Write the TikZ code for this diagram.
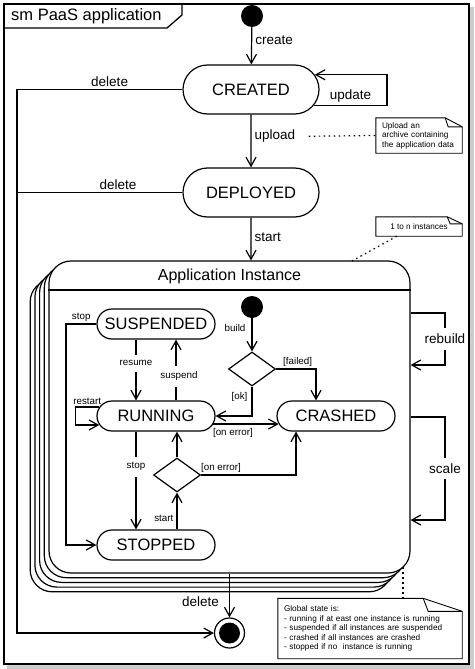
\documentclass[tikz,border=0pt]{standalone}
\usepackage{fontspec}
\setmainfont{Liberation Sans}
\usetikzlibrary{arrows.meta,shapes.misc,shapes.geometric}
\newcommand\mynote[4]{%
  \draw[notel] (#1.north west) -- ([xshift=-#2]#1.north east) -- ([yshift=-#3]#1.north east) -- (#1.south east) -- (#1.south west) -- cycle;
  \draw[notel] ([xshift=-#2]#1.north east) -- ([xshift=-#4,yshift=-#3]#1.north east) -- ([yshift=-#3]#1.north east);
}
\begin{document}
\begin{tikzpicture}[x=1pt,y=-1pt,
  base/.style={line width=1.2pt},
  arr/.style={base,-{Straight Barb[length=9pt,width=10pt]}},
  bigstate/.style={rounded rectangle, draw, line width=1.2pt, minimum width=136pt, minimum height=49pt, inner sep=0pt, font=\fontsize{16.5}{19}\selectfont, fill=white},
  smallstate/.style={rounded rectangle, draw, line width=1.2pt, minimum width=118pt, minimum height=30pt, inner sep=0pt, font=\fontsize{16.5}{19}\selectfont, fill=white},
  choice/.style={diamond, draw, line width=1.2pt, minimum width=47pt, minimum height=34pt, inner sep=0pt, fill=white},
  initst/.style={circle, fill=black, minimum size=22pt, inner sep=0pt},
  aibox/.style={rectangle, draw, line width=1.2pt, rounded corners=22pt, minimum width=361pt, minimum height=312pt, fill=white},
  biglbl/.style={font=\fontsize{13.5}{15}\selectfont, inner sep=2pt},
  smlbl/.style={font=\fontsize{9.8}{11}\selectfont, inner sep=2pt},
  gaplbl/.style={fill=white, inner xsep=1pt, inner ysep=6pt},
  notel/.style={line width=0.9pt},
  notebox/.style={rectangle, inner xsep=6pt, inner ysep=0pt, font=\fontsize{8.2}{9.6}\selectfont},
  dotl/.style={line width=1.2pt, dash pattern=on 1.5pt off 3.5pt}
]
\useasboundingbox (0,0) rectangle (474,669);
% frame with shadow
\fill[black!20] (7,7) rectangle (474,669);
\draw[line width=1.3pt, fill=white] (4,4) rectangle (469,664);
\draw[line width=1.3pt] (4,28) -- (167,28) -- (182,15) -- (182,4);
\node[anchor=west, font=\fontsize{16.5}{19}\selectfont, inner sep=0pt] (title) at (11,16) {sm PaaS application};

% top level states
\node[initst] (init) at (252,16) {};
\node[bigstate] (created) at (251,89.5) {CREATED};
\node[bigstate] (deployed) at (251,192.5) {DEPLOYED};

% composite with stacked copies
\foreach \k in {4,3,2,1} {
  \node[aibox] (ai\k) at (229.5-4.7*\k, 417+4.7*\k) {};
}
\node[aibox] (ai) at (229.5,417) {};
\draw[base] (ai.west |- 0,290) -- (ai.east |- 0,290);
\node[font=\fontsize{16}{19}\selectfont] (aititle) at (229.5,276) {Application Instance};

% inner states
\node[initst] (init2) at (252,307) {};
\node[choice] (d1) at (252,369) {};
\node[smallstate] (susp) at (156,324) {SUSPENDED};
\node[smallstate] (run) at (156,416) {RUNNING};
\node[smallstate] (crash) at (336,416) {CRASHED};
\node[smallstate] (stopped) at (156,545) {STOPPED};
\node[choice] (d2) at (177,475) {};

% final state
\node[circle, draw, line width=1.2pt, minimum size=30pt, inner sep=0pt, fill=white] (final) at (229.5,633) {};
\node[circle, fill=black, minimum size=21pt, inner sep=0pt] (finalin) at (final.center) {};

% coordinates
\coordinate (upx) at (387,0);
\coordinate (lx) at (17,633);
\coordinate (sx) at (66,0);
\coordinate (rx) at (445,0);
\coordinate (ie) at (352,261);
\coordinate (gs) at (403,567);

% top level transitions
\draw[arr] (init) -- node[biglbl, right=1pt, pos=0.35] (lcreate) {create} (created);
\draw[arr] (created.-14) -- node[biglbl, above, pos=0.5] (lupdate) {update} (created.-14 -| upx) |- (created.13);
\draw[arr] (created) -- node[biglbl, right=1pt, pos=0.41] (lupload) {upload} (deployed);
\draw[arr] (deployed) -- node[biglbl, right=1pt, pos=0.45] (lstart) {start} (deployed.south |- ai.north);
\draw[arr] (created.west) -- node[biglbl, above, pos=0.44] (ldel1) {delete} (created.west -| lx) |- (final.west);
\draw[base] (deployed.west) -- node[biglbl, above, pos=0.39] (ldel2) {delete} (deployed.west -| lx);
\draw[arr] (ai.south) -- node[biglbl, left=8pt, pos=0.64] (ldel3) {delete} (final);
\draw[arr] (ai.east |- 0,313) -- (rx |- 0,313) -- node[biglbl, gaplbl] (lrebuild) {rebuild} (rx |- 0,365) -- (ai.east |- 0,365);
\draw[arr] (ai.east |- 0,417) -- (rx |- 0,417) -- node[biglbl, gaplbl] (lscale) {scale} (rx |- 0,520) -- (ai.east |- 0,520);

% inner transitions
\draw[arr] (init2) -- node[smlbl, left=4pt, pos=0.3] (lbuild) {build} (d1);
\draw[arr] (d1.east) -| node[smlbl, above, pos=0.27] (lfailed) {[failed]} ([xshift=-20pt]crash.north);
\draw[arr] (d1.south) |- node[smlbl, left=2pt, pos=0.17] (lok) {[ok]} (run.east);
\draw[arr] ([xshift=-20pt]susp.south) -- node[smlbl, gaplbl, pos=0.39] (lresume) {resume} ([xshift=-20pt]run.north);
\draw[arr] ([xshift=20pt]run.north) -- node[smlbl, gaplbl, pos=0.4, xshift=3pt] (lsuspend) {suspend} ([xshift=20pt]susp.south);
\draw[arr] (susp.west) -- node[smlbl, above, pos=0.5] (lstop1) {stop} (susp.west -| sx) |- (stopped.west);
\draw[arr] (run.171) -- node[smlbl, above] (lrestart) {restart} ++(-24,0) |- (run.189);
\draw[arr] (run.-8) -- node[smlbl, below=2pt, pos=0.3] (lerr1) {[on error]} (crash.188);
\draw[arr] ([xshift=-20pt]run.south) -- node[smlbl, gaplbl, pos=0.36] (lstop2) {stop} ([xshift=-20pt]stopped.north);
\draw[arr] (stopped.north -| d2.south) -- node[smlbl, left=1pt, pos=0.3] (lstart2) {start} (d2.south);
\draw[arr] (d2.north) -- (d2.north |- run.south);
\draw[arr] (d2.east) -| node[smlbl, above, pos=0.105] (lerr2) {[on error]} ([xshift=-40pt]crash.south);

% notes
\node[notebox, minimum width=86pt, minimum height=35pt, text width=74pt, align=left] (upnote) at (419,135.5) {Upload an\\archive containing\\the application data};
\mynote{upnote}{17pt}{9pt}{14pt}
\node[notebox, minimum width=86pt, minimum height=19pt] (inote) at (419,226.5) {1 to n instances};
\mynote{inote}{15pt}{7pt}{12pt}
\node[notebox, minimum width=184pt, minimum height=60pt, text width=172pt, align=left] (gnote) at (370,628.5) {Global state is:\\- running if at east one instance is running\\- suspended if all instances are suspended\\- crashed if all instances are crashed\\- stopped if no\ \ instance is running};
\mynote{gnote}{39pt}{13pt}{34pt}

\draw[dotl] ([xshift=11pt]lupload.east) -- (upnote.west);
\draw[dotl] ([xshift=21pt]inote.south west) -- (ie);
\draw[dotl] (gs) -- (gs |- gnote.north);
\end{tikzpicture}
\end{document}
